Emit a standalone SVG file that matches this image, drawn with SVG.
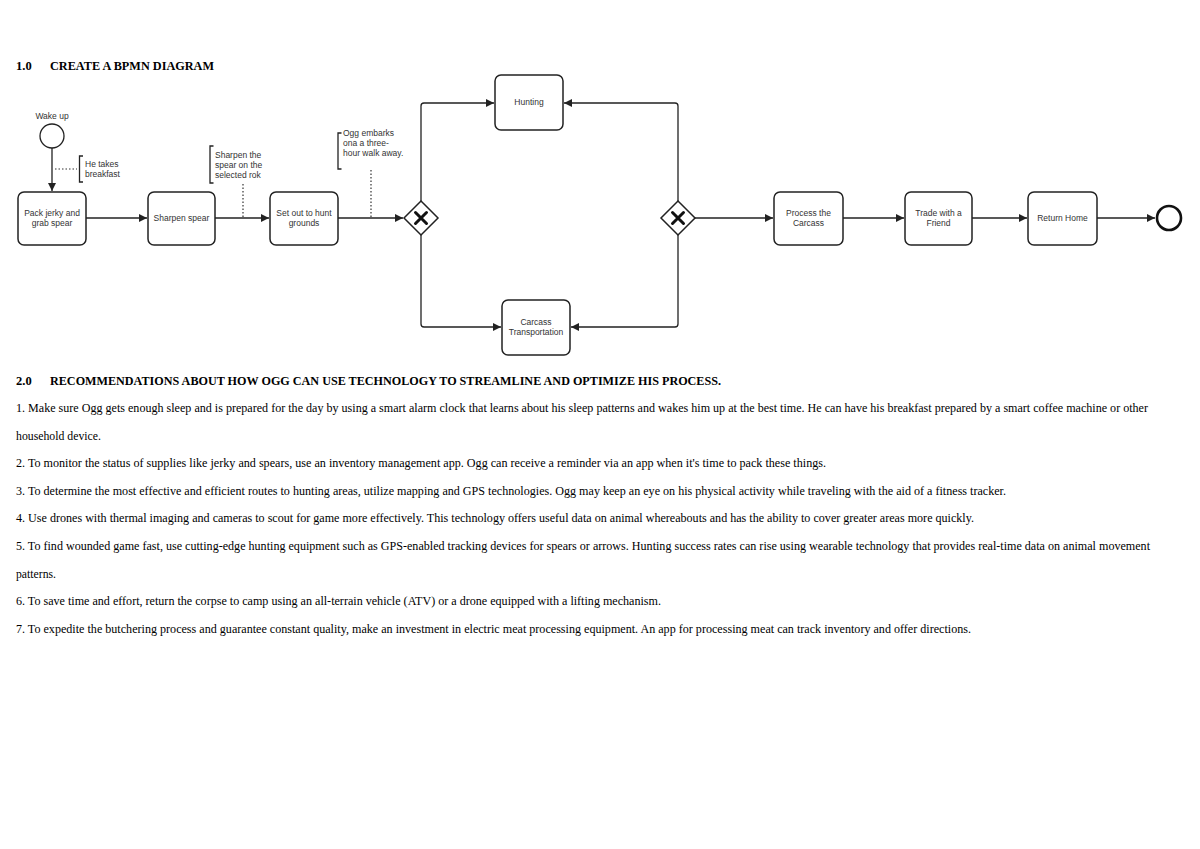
<svg xmlns="http://www.w3.org/2000/svg" width="1200" height="849" viewBox="0 0 1200 849">
<defs>
<style>
.task{fill:#fff;stroke:#222;stroke-width:1.5}
.lbl{font-family:"Liberation Sans",Arial,sans-serif;font-size:8.5px;fill:#333;text-anchor:middle}
.ann{font-family:"Liberation Sans",Arial,sans-serif;font-size:8.5px;fill:#333}
.flow{fill:none;stroke:#222;stroke-width:1.3}
.dot{fill:none;stroke:#333;stroke-width:1.2;stroke-dasharray:1.5 2}
.brk{fill:none;stroke:#222;stroke-width:1.3}
.gw{fill:#fff;stroke:#222;stroke-width:1.5}
.gx{stroke:#111;stroke-width:3;stroke-linecap:round}
.h{font-family:"Liberation Serif","Times New Roman",serif;font-size:12.5px;font-weight:bold;fill:#000}
.p{font-family:"Liberation Serif","Times New Roman",serif;font-size:12px;fill:#000}
</style>
<marker id="arr" viewBox="0 0 10 10" refX="10" refY="5" markerWidth="8" markerHeight="8" markerUnits="userSpaceOnUse" orient="auto">
<path d="M0,0 L10,5 L0,10 z" fill="#222"/>
</marker>
</defs>
<rect width="1200" height="849" fill="#fff"/>

<text class="h" x="16" y="70">1.0</text>
<text class="h" x="50" y="70" textLength="164" lengthAdjust="spacingAndGlyphs">CREATE A BPMN DIAGRAM</text>

<g id="connectors">
<path class="flow" d="M52,148 V191" marker-end="url(#arr)"/>
<path class="flow" d="M86,218 H147" marker-end="url(#arr)"/>
<path class="flow" d="M215,218 H269" marker-end="url(#arr)"/>
<path class="flow" d="M338,218 H403" marker-end="url(#arr)"/>
<path class="flow" d="M421,201 V106 Q421,103 424,103 H494" marker-end="url(#arr)"/>
<path class="flow" d="M421,235 V324 Q421,327 424,327 H501" marker-end="url(#arr)"/>
<path class="flow" d="M678,201 V106 Q678,103 675,103 H564" marker-end="url(#arr)"/>
<path class="flow" d="M678,235 V324 Q678,327 675,327 H571" marker-end="url(#arr)"/>
<path class="flow" d="M695,218 H773" marker-end="url(#arr)"/>
<path class="flow" d="M843,218 H904" marker-end="url(#arr)"/>
<path class="flow" d="M972,218 H1027" marker-end="url(#arr)"/>
<path class="flow" d="M1097,218 H1155" marker-end="url(#arr)"/>
<path class="dot" d="M55,169 H77"/>
<path class="dot" d="M243,184 V217"/>
<path class="dot" d="M371,170 V217"/>
</g>

<g id="start">
<circle cx="52" cy="136" r="12" fill="#fff" stroke="#222" stroke-width="1.3"/>
<text class="lbl" x="52" y="119">Wake up</text>
</g>

<g id="ann-breakfast">
<path class="brk" d="M83,156 H79.5 V182 H83"/>
<text class="ann" x="85" y="167">He takes</text>
<text class="ann" x="85" y="177">breakfast</text>
</g>

<g id="task-pack">
<rect class="task" x="18" y="192" width="68" height="53" rx="6"/>
<text class="lbl" x="52" y="216">Pack jerky and</text>
<text class="lbl" x="52" y="226">grab spear</text>
</g>

<g id="task-sharpen">
<rect class="task" x="148" y="192" width="67" height="53" rx="6"/>
<text class="lbl" x="181.5" y="221">Sharpen spear</text>
</g>

<g id="ann-sharpen">
<path class="brk" d="M213.5,146 H210 V183 H213.5"/>
<text class="ann" x="215" y="158">Sharpen the</text>
<text class="ann" x="215" y="168">spear on the</text>
<text class="ann" x="215" y="178">selected rok</text>
</g>

<g id="task-setout">
<rect class="task" x="270" y="192" width="68" height="53" rx="6"/>
<text class="lbl" x="304" y="216">Set out to hunt</text>
<text class="lbl" x="304" y="226">grounds</text>
</g>

<g id="ann-ogg">
<path class="brk" d="M341.5,133 H338 V169 H341.5"/>
<text class="ann" x="343" y="136">Ogg embarks</text>
<text class="ann" x="343" y="146">ona a three-</text>
<text class="ann" x="343" y="156">hour walk away.</text>
</g>

<g id="gateway-1">
<path class="gw" d="M421,201 L438,218 L421,235 L404,218 z"/>
<path class="gx" d="M415.5,212.5 L426.5,223.5 M426.5,212.5 L415.5,223.5"/>
</g>

<g id="task-hunting">
<rect class="task" x="495" y="75" width="68" height="55" rx="6"/>
<text class="lbl" x="529" y="105">Hunting</text>
</g>

<g id="task-carcass-transport">
<rect class="task" x="502" y="300" width="68" height="55" rx="6"/>
<text class="lbl" x="536" y="325">Carcass</text>
<text class="lbl" x="536" y="335">Transportation</text>
</g>

<g id="gateway-2">
<path class="gw" d="M678,201 L695,218 L678,235 L661,218 z"/>
<path class="gx" d="M672.5,212.5 L683.5,223.5 M683.5,212.5 L672.5,223.5"/>
</g>

<g id="task-process">
<rect class="task" x="774" y="192" width="69" height="53" rx="6"/>
<text class="lbl" x="808.5" y="216">Process the</text>
<text class="lbl" x="808.5" y="226">Carcass</text>
</g>

<g id="task-trade">
<rect class="task" x="905" y="192" width="67" height="53" rx="6"/>
<text class="lbl" x="938.5" y="216">Trade with a</text>
<text class="lbl" x="938.5" y="226">Friend</text>
</g>

<g id="task-return">
<rect class="task" x="1028" y="192" width="69" height="53" rx="6"/>
<text class="lbl" x="1062.5" y="221">Return Home</text>
</g>

<g id="end">
<circle cx="1169" cy="218" r="12" fill="#fff" stroke="#111" stroke-width="2.6"/>
</g>

<g id="recommendations">
<text class="h" x="16" y="385">2.0</text>
<text class="h" x="50" y="385" textLength="671" lengthAdjust="spacingAndGlyphs">RECOMMENDATIONS ABOUT HOW OGG CAN USE TECHNOLOGY TO STREAMLINE AND OPTIMIZE HIS PROCESS.</text>
<text class="p" x="16" y="412" textLength="1132" lengthAdjust="spacingAndGlyphs">1. Make sure Ogg gets enough sleep and is prepared for the day by using a smart alarm clock that learns about his sleep patterns and wakes him up at the best time. He can have his breakfast prepared by a smart coffee machine or other</text>
<text class="p" x="16" y="440" textLength="85" lengthAdjust="spacingAndGlyphs">household device.</text>
<text class="p" x="16" y="467" textLength="810" lengthAdjust="spacingAndGlyphs">2. To monitor the status of supplies like jerky and spears, use an inventory management app. Ogg can receive a reminder via an app when it's time to pack these things.</text>
<text class="p" x="16" y="495" textLength="990" lengthAdjust="spacingAndGlyphs">3. To determine the most effective and efficient routes to hunting areas, utilize mapping and GPS technologies. Ogg may keep an eye on his physical activity while traveling with the aid of a fitness tracker.</text>
<text class="p" x="16" y="522" textLength="958" lengthAdjust="spacingAndGlyphs">4. Use drones with thermal imaging and cameras to scout for game more effectively. This technology offers useful data on animal whereabouts and has the ability to cover greater areas more quickly.</text>
<text class="p" x="16" y="550" textLength="1134" lengthAdjust="spacingAndGlyphs">5. To find wounded game fast, use cutting-edge hunting equipment such as GPS-enabled tracking devices for spears or arrows. Hunting success rates can rise using wearable technology that provides real-time data on animal movement</text>
<text class="p" x="16" y="578" textLength="40" lengthAdjust="spacingAndGlyphs">patterns.</text>
<text class="p" x="16" y="605" textLength="645" lengthAdjust="spacingAndGlyphs">6. To save time and effort, return the corpse to camp using an all-terrain vehicle (ATV) or a drone equipped with a lifting mechanism.</text>
<text class="p" x="16" y="633" textLength="955" lengthAdjust="spacingAndGlyphs">7. To expedite the butchering process and guarantee constant quality, make an investment in electric meat processing equipment. An app for processing meat can track inventory and offer directions.</text>
</g>
</svg>
